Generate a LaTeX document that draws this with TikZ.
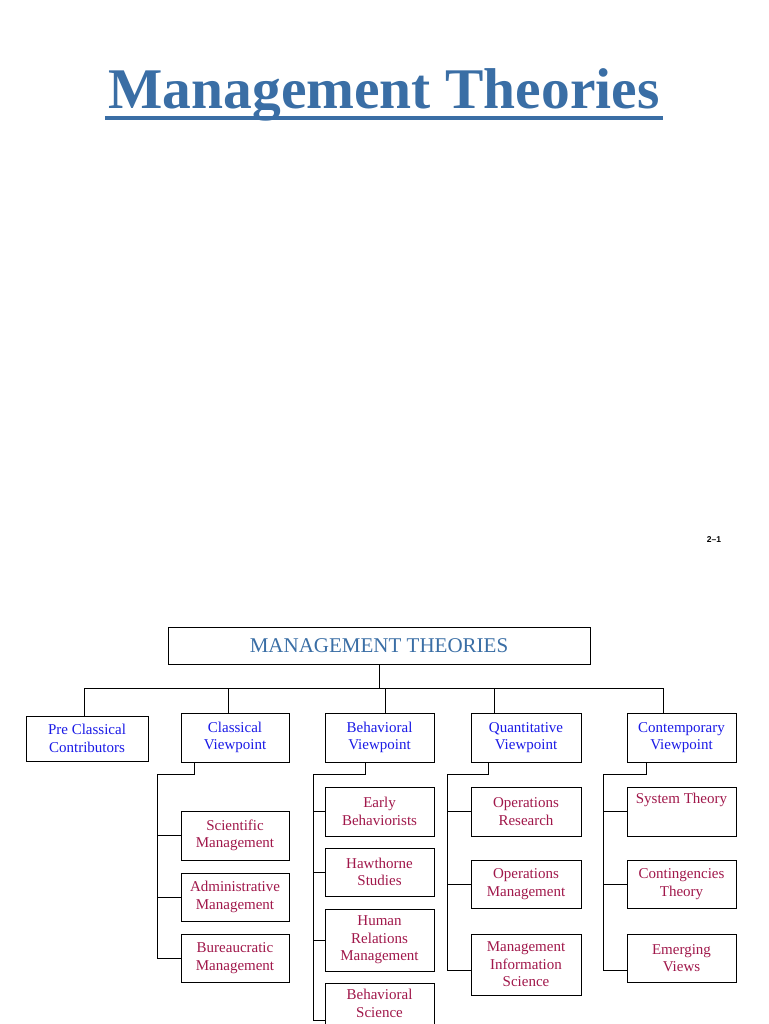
\documentclass[tikz,border=0pt]{standalone}
\usepackage{fontspec}
\setmainfont{Liberation Serif}
\newfontfamily\hv{Liberation Sans}
\usetikzlibrary{calc}
\definecolor{ttl}{HTML}{3A6EA5}
\definecolor{lvb}{HTML}{1A1AE6}
\definecolor{chc}{HTML}{A0174A}
\begin{document}
\begin{tikzpicture}[x=1pt,y=-1pt,
  box/.style={draw,line width=0.8pt,inner sep=0pt,align=center,font=\fontsize{15}{17.5}\selectfont},
  lone/.style={box,text=lvb},
  ch/.style={box,text=chc},
  ln/.style={line width=0.8pt}]
\useasboundingbox (0,0) rectangle (768,1024);
\clip (0,0) rectangle (768,1024);
\node[text=ttl,font=\bfseries\fontsize{57.5}{60}\selectfont,anchor=base] (title) at (384,109) {Management Theories};
\draw[ttl,line width=3.5pt] (title.base west) ++(0,9) coordinate (ul) -- (ul -| title.base east);
\node[font=\hv\bfseries\fontsize{8.5}{10}\selectfont] (pg) at (714,540) {2–1};
\node[box,text=ttl,minimum width=422,minimum height=37,font=\fontsize{21}{24}\selectfont] (top) at (379,645.5) {MANAGEMENT THEORIES};
\node[lone,minimum width=122,minimum height=45] (pc) at (87,738.5) {Pre Classical\\Contributors};
\node[lone,minimum width=108,minimum height=49] (cv) at (235,737.5) {Classical\\Viewpoint};
\node[lone,minimum width=109,minimum height=49] (bv) at (379.5,737.5) {Behavioral\\Viewpoint};
\node[lone,minimum width=110,minimum height=49] (qv) at (526,737.5) {Quantitative\\Viewpoint};
\node[lone,minimum width=109,minimum height=49] (tv) at (681.5,737.5) {Contemporary\\Viewpoint};
\coordinate (bus) at (84,688);
\draw[ln] (top.south) -- (top.south |- bus);
\draw[ln] (84,716) coordinate (pcn) |- (663,688) coordinate (busR) -- (busR |- tv.north);
\draw[ln] (228,688) coordinate (b1) -- (b1 |- cv.north);
\draw[ln] (385,688) coordinate (b2) -- (b2 |- bv.north);
\draw[ln] (494,688) coordinate (b3) -- (b3 |- qv.north);
% classical children
\node[ch,minimum width=108,minimum height=49] (sm) at (235,835.5) {Scientific\\Management};
\node[ch,minimum width=108,minimum height=48] (am) at (235,897) {Administrative\\Management};
\node[ch,minimum width=108,minimum height=48] (bm) at (235,958) {Bureaucratic\\Management};
\draw[ln] (194,762) coordinate (ck) -- (194,774) coordinate (ck2) -- (157,774) coordinate (cs) -- (cs |- bm.west) -- (bm.west);
\draw[ln] (cs |- sm.west) -- (sm.west);
\draw[ln] (cs |- am.west) -- (am.west);
% behavioral children
\node[ch,minimum width=109,minimum height=49] (eb) at (379.5,811.5) {Early\\Behaviorists};
\node[ch,minimum width=109,minimum height=48] (hs) at (379.5,872) {Hawthorne\\Studies};
\node[ch,minimum width=109,minimum height=62] (hr) at (379.5,940) {Human\\Relations\\Management};
\node[box,minimum width=109,minimum height=58,anchor=north] (bs) at (379.5,983) {};
\node[text=chc,font=\fontsize{15}{17.5}\selectfont,align=center,anchor=north,inner sep=0pt] (bst) at ($(bs.north)+(0,6)$) {Behavioral\\Science};
\draw[ln] (365,762) -- (365,774) -- (313,774) coordinate (bsp) -- (313,1020) coordinate (bsb) -- (bsb -| bs.west);
\draw[ln] (bsp |- eb.west) -- (eb.west);
\draw[ln] (bsp |- hs.west) -- (hs.west);
\draw[ln] (bsp |- hr.west) -- (hr.west);
% quantitative children
\node[ch,minimum width=110,minimum height=49] (or) at (526,811.5) {Operations\\Research};
\node[ch,minimum width=110,minimum height=48] (om) at (526,884) {Operations\\Management};
\node[ch,minimum width=110,minimum height=61] (mis) at (526,964.5) {Management\\Information\\Science};
\draw[ln] (488,762) -- (488,774) -- (447,774) coordinate (qsp) -- (447,970) coordinate (qb) -- (qb -| mis.west);
\draw[ln] (qsp |- or.west) -- (or.west);
\draw[ln] (qsp |- om.west) -- (om.west);
% contemporary children
\node[box,minimum width=109,minimum height=49] (st) at (681.5,811.5) {};
\node[text=chc,font=\fontsize{15}{17.5}\selectfont,anchor=north,inner sep=0pt] (stt) at ($(st.north)+(0,6)$) {System Theory};
\node[ch,minimum width=109,minimum height=48] (ct) at (681.5,884) {Contingencies\\Theory};
\node[ch,minimum width=109,minimum height=48] (ev) at (681.5,958) {Emerging\\Views};
\draw[ln] (646,762) -- (646,774) -- (603,774) coordinate (tsp) -- (603,970) coordinate (tb) -- (tb -| ev.west);
\draw[ln] (tsp |- st.west) -- (st.west);
\draw[ln] (tsp |- ct.west) -- (ct.west);
\end{tikzpicture}
\end{document}
